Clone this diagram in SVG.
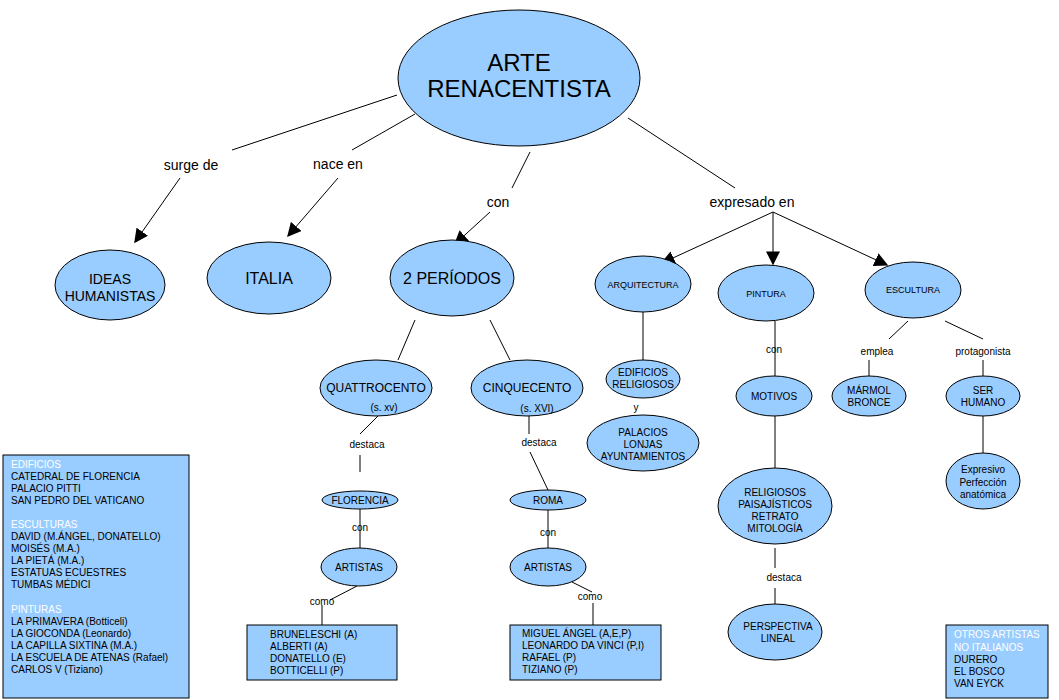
<svg xmlns="http://www.w3.org/2000/svg" width="1059" height="700" viewBox="0 0 1059 700">
<defs>
<style>
.n{fill:#99ccff;stroke:#000;stroke-width:1}
.t{font-family:"Liberation Sans",Arial,sans-serif;fill:#000;text-anchor:middle}
.l{stroke:#000;stroke-width:1;fill:none}
.a{stroke:#000;stroke-width:1;fill:none;marker-end:url(#ar)}
.bx{font-family:"Liberation Sans",Arial,sans-serif;font-size:10px;fill:#000}
.w{fill:#fff}
</style>
<marker id="ar" viewBox="0 0 10 10" refX="9" refY="5" markerWidth="14" markerHeight="14" markerUnits="userSpaceOnUse" orient="auto"><path d="M0,0 L10,5 L0,10 z" fill="#000"/></marker>
</defs>
<rect width="1059" height="700" fill="#fff"/>
<g id="connectors">
<line class="l" x1="397" y1="95" x2="232" y2="150"/>
<line class="a" x1="180" y1="178" x2="135" y2="242"/>
<line class="l" x1="415" y1="114" x2="352" y2="150"/>
<line class="a" x1="338" y1="178" x2="288" y2="236"/>
<line class="l" x1="530" y1="152" x2="512" y2="188"/>
<line class="a" x1="490" y1="212" x2="455" y2="244"/>
<line class="l" x1="628" y1="118" x2="735" y2="188"/>
<line class="a" x1="773" y1="212" x2="662" y2="263"/>
<line class="a" x1="773" y1="212" x2="773" y2="264"/>
<line class="a" x1="773" y1="212" x2="887" y2="265"/>
<line class="l" x1="415" y1="320" x2="398" y2="360"/>
<line class="l" x1="490" y1="320" x2="510" y2="360"/>
<line class="l" x1="378" y1="416" x2="360" y2="434"/>
<line class="l" x1="360" y1="455" x2="360" y2="472"/>
<line class="l" x1="360" y1="509" x2="360" y2="548"/>
<line class="l" x1="357" y1="586" x2="330" y2="600"/>
<line class="l" x1="322" y1="605" x2="322" y2="625"/>
<line class="l" x1="529" y1="416" x2="529" y2="434"/>
<line class="l" x1="530" y1="452" x2="548" y2="490"/>
<line class="l" x1="548" y1="510" x2="548" y2="548"/>
<line class="l" x1="572" y1="582" x2="592" y2="592"/>
<line class="l" x1="593" y1="603" x2="593" y2="625"/>
<line class="l" x1="643" y1="312" x2="643" y2="360"/>
<line class="l" x1="775" y1="321" x2="775" y2="376"/>
<line class="l" x1="775" y1="416" x2="775" y2="468"/>
<line class="l" x1="775" y1="548" x2="775" y2="568"/>
<line class="l" x1="775" y1="588" x2="775" y2="604"/>
<line class="l" x1="908" y1="321" x2="889" y2="339"/>
<line class="l" x1="869" y1="360" x2="869" y2="376"/>
<line class="l" x1="945" y1="321" x2="983" y2="339"/>
<line class="l" x1="983" y1="360" x2="983" y2="376"/>
<line class="l" x1="983" y1="416" x2="983" y2="453"/>
<g class="t" font-size="14px">
<text x="191" y="170">surge de</text>
<text x="338" y="169">nace en</text>
<text x="498" y="207">con</text>
<text x="752" y="207">expresado en</text>
</g>
<g class="t" font-size="10px">
<text x="367" y="448">destaca</text>
<text x="360" y="531">con</text>
<text x="322" y="605">como</text>
<text x="539" y="446">destaca</text>
<text x="548" y="536">con</text>
<text x="590" y="600">como</text>
<text x="636" y="411">y</text>
<text x="774" y="353">con</text>
<text x="784" y="581">destaca</text>
<text x="877" y="355">emplea</text>
<text x="983" y="355">protagonista</text>
</g>
</g>
<g id="arte"><ellipse class="n" cx="519" cy="78" rx="121" ry="68"/><text class="t" font-size="24px" x="519" y="71">ARTE</text><text class="t" font-size="24px" x="519" y="97">RENACENTISTA</text></g>
<g id="ideas"><ellipse class="n" cx="110" cy="285" rx="55" ry="35"/><text class="t" font-size="14px" x="110" y="284">IDEAS</text><text class="t" font-size="14px" x="110" y="301">HUMANISTAS</text></g>
<g id="italia"><ellipse class="n" cx="269" cy="278" rx="62" ry="36"/><text class="t" font-size="16px" x="269" y="284">ITALIA</text></g>
<g id="periodos"><ellipse class="n" cx="452" cy="278" rx="62" ry="38"/><text class="t" font-size="16px" x="452" y="284">2 PERÍODOS</text></g>
<g id="arquitectura"><ellipse class="n" cx="643" cy="284" rx="48" ry="28"/><text class="t" font-size="9px" x="643" y="288">ARQUITECTURA</text></g>
<g id="pintura"><ellipse class="n" cx="766" cy="293" rx="48" ry="28"/><text class="t" font-size="9px" x="766" y="297">PINTURA</text></g>
<g id="escultura"><ellipse class="n" cx="913" cy="290" rx="48" ry="28"/><text class="t" font-size="9px" x="913" y="293">ESCULTURA</text></g>
<g id="quattro"><ellipse class="n" cx="376" cy="388" rx="56" ry="28"/><text class="t" font-size="12px" x="376" y="392">QUATTROCENTO</text><text class="t" font-size="10px" x="384" y="411">(s. xv)</text></g>
<g id="cinque"><ellipse class="n" cx="527" cy="388" rx="56" ry="28"/><text class="t" font-size="12px" x="527" y="392">CINQUECENTO</text><text class="t" font-size="10px" x="537" y="412">(s. XVI)</text></g>
<g id="edificios"><ellipse class="n" cx="643" cy="379" rx="37" ry="19"/><text class="t" font-size="10px" x="643" y="376">EDIFICIOS</text><text class="t" font-size="10px" x="643" y="388">RELIGIOSOS</text></g>
<g id="palacios"><ellipse class="n" cx="643" cy="443" rx="56" ry="28"/><text class="t" font-size="10px" x="643" y="436">PALACIOS</text><text class="t" font-size="10px" x="643" y="448">LONJAS</text><text class="t" font-size="10px" x="643" y="460">AYUNTAMIENTOS</text></g>
<g id="motivos"><ellipse class="n" cx="774" cy="396" rx="38" ry="20"/><text class="t" font-size="10px" x="774" y="400">MOTIVOS</text></g>
<g id="marmol"><ellipse class="n" cx="869" cy="396" rx="37" ry="20"/><text class="t" font-size="10px" x="869" y="394">MÁRMOL</text><text class="t" font-size="10px" x="869" y="406">BRONCE</text></g>
<g id="ser"><ellipse class="n" cx="983" cy="396" rx="37" ry="20"/><text class="t" font-size="10px" x="983" y="394">SER</text><text class="t" font-size="10px" x="983" y="406">HUMANO</text></g>
<g id="expresivo"><ellipse class="n" cx="983" cy="481" rx="37" ry="28"/><text class="t" font-size="10px" x="983" y="473">Expresivo</text><text class="t" font-size="10px" x="983" y="486">Perfección</text><text class="t" font-size="10px" x="983" y="498">anatómica</text></g>
<g id="religiosos"><ellipse class="n" cx="775" cy="506" rx="57" ry="38"/><text class="t" font-size="10px" x="775" y="496">RELIGIOSOS</text><text class="t" font-size="10px" x="775" y="508">PAISAJÍSTICOS</text><text class="t" font-size="10px" x="775" y="520">RETRATO</text><text class="t" font-size="10px" x="775" y="532">MITOLOGÍA</text></g>
<g id="perspectiva"><ellipse class="n" cx="775" cy="632" rx="47" ry="28"/><text class="t" font-size="10px" x="778" y="630">PERSPECTIVA</text><text class="t" font-size="10px" x="778" y="642">LINEAL</text></g>
<g id="florencia"><ellipse class="n" cx="360" cy="500" rx="38" ry="9"/><text class="t" font-size="10px" x="360" y="504">FLORENCIA</text></g>
<g id="roma"><ellipse class="n" cx="548" cy="500" rx="38" ry="10"/><text class="t" font-size="10px" x="548" y="504">ROMA</text></g>
<g id="artistas1"><ellipse class="n" cx="359" cy="567" rx="38" ry="19"/><text class="t" font-size="10px" x="359" y="571">ARTISTAS</text></g>
<g id="artistas2"><ellipse class="n" cx="548" cy="567" rx="38" ry="19"/><text class="t" font-size="10px" x="548" y="571">ARTISTAS</text></g>
<g id="box1"><rect class="n" x="247" y="625" width="150" height="55"/><text class="bx" x="270" y="638">BRUNELESCHI (A)</text><text class="bx" x="270" y="650">ALBERTI (A)</text><text class="bx" x="270" y="662">DONATELLO (E)</text><text class="bx" x="270" y="674">BOTTICELLI (P)</text></g>
<g id="box2"><rect class="n" x="510" y="625" width="151" height="55"/><text class="bx" x="522" y="637">MIGUEL ÁNGEL (A,E,P)</text><text class="bx" x="522" y="649">LEONARDO DA VINCI (P,I)</text><text class="bx" x="522" y="661">RAFAEL (P)</text><text class="bx" x="522" y="673">TIZIANO (P)</text></g>
<g id="box3"><rect class="n" x="3" y="455" width="186" height="243"/>
<text class="bx w" x="11" y="468">EDIFICIOS</text><text class="bx" x="11" y="480">CATEDRAL DE FLORENCIA</text><text class="bx" x="11" y="492">PALACIO PITTI</text><text class="bx" x="11" y="504">SAN PEDRO DEL VATICANO</text>
<text class="bx w" x="11" y="528">ESCULTURAS</text><text class="bx" x="11" y="540">DAVID (M.ÁNGEL, DONATELLO)</text><text class="bx" x="11" y="552">MOISÉS (M.A.)</text><text class="bx" x="11" y="564">LA PIETÁ (M.A.)</text><text class="bx" x="11" y="576">ESTATUAS ECUESTRES</text><text class="bx" x="11" y="588">TUMBAS MÉDICI</text>
<text class="bx w" x="11" y="613">PINTURAS</text><text class="bx" x="11" y="625">LA PRIMAVERA (Botticeli)</text><text class="bx" x="11" y="637">LA GIOCONDA  (Leonardo)</text><text class="bx" x="11" y="649">LA CAPILLA SIXTINA (M.A.)</text><text class="bx" x="11" y="661">LA ESCUELA DE ATENAS (Rafael)</text><text class="bx" x="11" y="673">CARLOS V (Tiziano)</text></g>
<g id="box4"><rect class="n" x="946" y="625" width="102" height="73"/><text class="bx w" x="954" y="638">OTROS ARTISTAS</text><text class="bx w" x="954" y="651">NO ITALIANOS</text><text class="bx" x="954" y="663">DURERO</text><text class="bx" x="954" y="675">EL BOSCO</text><text class="bx" x="954" y="687">VAN EYCK</text></g>
</svg>
